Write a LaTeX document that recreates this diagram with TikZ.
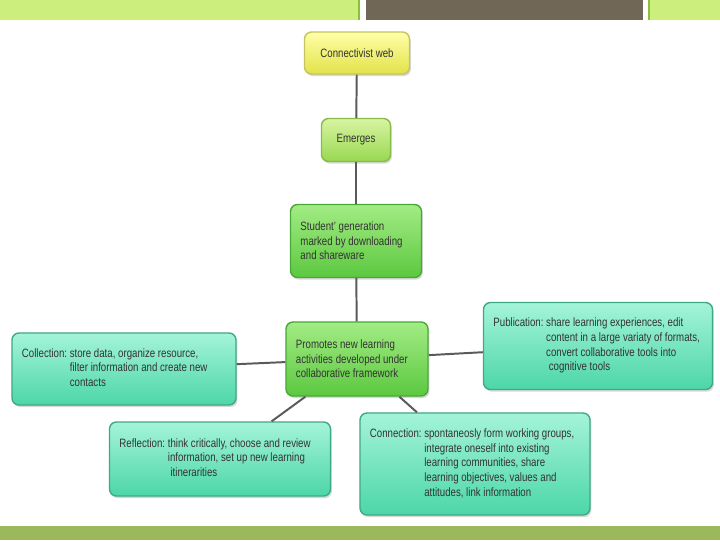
\documentclass[tikz,border=0pt]{standalone}
\usepackage{xcolor}
\usepackage{fontspec}
\setmainfont[FakeStretch=0.8]{Liberation Sans}
\usetikzlibrary{shadows}

\definecolor{bandaverde}{HTML}{CCEE7C}
\definecolor{lineaverde}{HTML}{8DBE3A}
\definecolor{bandacafe}{HTML}{716757}
\definecolor{bandaoliva}{HTML}{9CB85C}
\definecolor{conector}{HTML}{5A5A5A}
\definecolor{amarilloalto}{HTML}{FFFFA8}
\definecolor{amarillobajo}{HTML}{E2E24A}
\definecolor{amarilloborde}{HTML}{C4C460}
\definecolor{limaalto}{HTML}{D8F4A2}
\definecolor{limabajo}{HTML}{98D850}
\definecolor{limaborde}{HTML}{88BC48}
\definecolor{verdealto}{HTML}{A2EC84}
\definecolor{verdebajo}{HTML}{5CC840}
\definecolor{verdeborde}{HTML}{4AA838}
\definecolor{turquesaalto}{HTML}{A4F4D8}
\definecolor{turquesabajo}{HTML}{4CD6A8}
\definecolor{turquesaborde}{HTML}{3FA888}

\tikzset{
  caja/.style={rounded corners=5pt, line width=1pt, inner xsep=0.25cm,
    font=\fontsize{8.6}{10.4}\selectfont, text=black!80,
    execute at begin node={\spaceskip=1.9pt plus 0.5pt\xspaceskip=1.9pt plus 0.5pt},
    drop shadow={shadow xshift=1pt, shadow yshift=-1.5pt, opacity=0.3}},
  amarilla/.style={caja, draw=amarilloborde, top color=amarilloalto, bottom color=amarillobajo},
  lima/.style={caja, draw=limaborde, top color=limaalto, bottom color=limabajo},
  verde/.style={caja, draw=verdeborde, top color=verdealto, bottom color=verdebajo, align=left},
  turquesa/.style={caja, draw=turquesaborde, top color=turquesaalto, bottom color=turquesabajo, align=left},
  enlace/.style={draw=conector, line width=1.4pt}
}

\begin{document}
\begin{tikzpicture}[x=0.025cm, y=-0.025cm]
        % Paso 1: Fija el marco de la diapositiva
        \useasboundingbox (0,0) rectangle (720,540);
        \fill[white] (0,0) rectangle (720,540);

        % Paso 2: Dibuja las bandas de arriba y de abajo
        \fill[bandaverde] (0,0) rectangle (358,20);
        \fill[lineaverde] (358,0) rectangle (360,20);
        \fill[bandacafe] (366,0) rectangle (643,20);
        \fill[lineaverde] (648,0) rectangle (650,20);
        \fill[bandaverde] (650,0) rectangle (720,20);
        \fill[bandaoliva] (0,526) rectangle (720,540);

        % Paso 3: Define la cadena central
        \node[amarilla, minimum width=2.625cm, minimum height=1.05cm] (Web) at (357,53) {Connectivist web};
        \node[lima, minimum width=1.725cm, minimum height=1.075cm] (Emerge) at (356,140) {Emerges};
        \node[verde, text width=2.775cm, minimum height=1.825cm] (Gen) at (356,241)
          {Student' generation\\ marked by downloading\\ and shareware};
        \node[verde, text width=3.05cm, minimum height=1.85cm] (Prom) at (357,359)
          {Promotes new learning\\ activities developed under\\ collaborative framework};

        % Paso 4: Define las cuatro actividades
        \node[turquesa, text width=5.1cm, minimum height=1.8cm] (Col) at (124,369)
          {\begin{tabular}{@{}l@{ }l@{}}Collection: & store data, organize resource,\\
            & filter information and create new\\ & contacts\end{tabular}};
        \node[turquesa, text width=5.225cm, minimum height=2.175cm] (Pub) at (598,346)
          {\begin{tabular}{@{}l@{ }l@{}}Publication: & share learning experiences, edit\\
            & content in a large variaty of formats,\\ & convert collaborative tools into\\
            & \ cognitive tools\end{tabular}};
        \node[turquesa, text width=5.025cm, minimum height=1.85cm] (Ref) at (220,459)
          {\begin{tabular}{@{}l@{ }l@{}}Reflection: & think critically, choose and review\\
            & information, set up new learning\\ & \ itinerarities\end{tabular}};
        \node[turquesa, text width=5.25cm, minimum height=2.55cm] (Con) at (475,464)
          {\begin{tabular}{@{}l@{ }l@{}}Connection: & spontaneosly form working groups,\\
            & integrate oneself into existing\\ & learning communities, share\\
            & learning objectives, values and\\ & attitudes, link information\end{tabular}};

        % Paso 5: Dibuja los conectores
        \draw[enlace] (Web) -- (Emerge);
        \draw[enlace] (Emerge) -- (Gen);
        \draw[enlace] (Gen) -- (Prom);
        \draw[enlace] (Prom) -- (Col);
        \draw[enlace] (Prom) -- (Pub);
        \draw[enlace] (Prom) -- (Ref);
        \draw[enlace] (Prom) -- (Con);
    \end{tikzpicture}
\end{document}
